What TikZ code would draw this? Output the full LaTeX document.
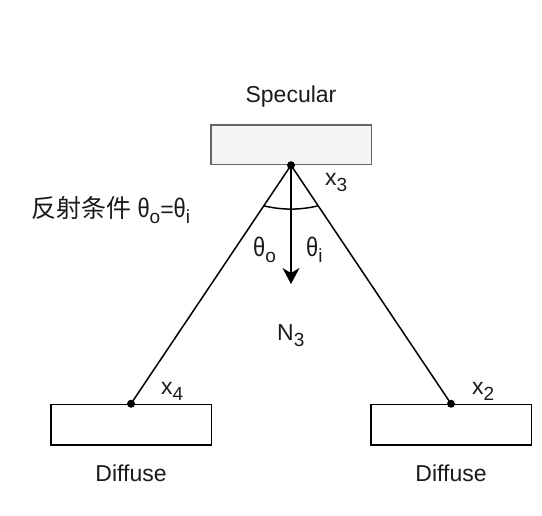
\documentclass[tikz,border=0pt]{standalone}
\usepackage{fontspec}
\setmainfont{Liberation Sans}
\newfontfamily\cjk{Noto Sans CJK SC}
\usetikzlibrary{arrows.meta, calc}
\definecolor{specgray}{HTML}{666666}
\definecolor{specfill}{HTML}{F5F5F5}
\definecolor{txtgray}{HTML}{1A1A1A}
\newcommand{\lowidx}[1]{\raisebox{-5.5pt}{\fontsize{19}{20}\selectfont #1}}
\newcommand{\thsym}{\scalebox{0.95}[1.17]{θ}}

\begin{document}
\begin{tikzpicture}[
  x=1pt, y=-1pt,
  font=\fontsize{23}{27}\selectfont,
  specbox/.style={
    rectangle, draw=specgray, fill=specfill, line width=1.5pt,
    minimum width=160.5pt, minimum height=39.5pt, inner sep=0pt
  },
  diffbox/.style={
    rectangle, draw=black, fill=white, line width=1.5pt,
    minimum width=160.5pt, minimum height=40.5pt, inner sep=0pt
  },
  lbl/.style={inner sep=0pt, text=txtgray},
  ray/.style={draw=black, line width=1.5pt},
  arr/.style={-{Stealth[length=16pt, width=17pt, inset=5pt]}, draw=black, line width=1.5pt},
  dot/.style={fill=black},
]
\useasboundingbox (0,0) rectangle (542,516);

% Boxes
\node[specbox] (spec) at (291,144.75) {};
\node[diffbox] (difl) at (131,424.75) {};
\node[diffbox] (difr) at (451,424.75) {};

% Box captions
\node[lbl, anchor=base] (speclbl) at (291,103) {Specular};
\node[lbl, anchor=base] (difllbl) at (131,481.5) {Diffuse};
\node[lbl, anchor=base] (difrlbl) at (451,481.5) {Diffuse};

% Hit points
\coordinate (x3) at (spec.south);
\coordinate (x4) at (difl.north);
\coordinate (x2) at (difr.north);
\coordinate (n3) at (291,284);

% Rays and normal
\draw[ray] (x3) -- (x4);
\draw[ray] (x3) -- (x2);
\draw[arr] (x3) -- (n3);

% Angle arc
\coordinate (arcl) at ($(x3)!0.17!(x4)$);
\coordinate (arcr) at ($(x3)!0.17!(x2)$);
\draw[ray] (arcl) .. controls ($(arcl)+(18,4.4)$) and ($(arcr)+(-18,4.4)$) .. (arcr);

\fill[dot] (x3) circle[radius=4pt];
\fill[dot] (x4) circle[radius=4pt];
\fill[dot] (x2) circle[radius=4pt];

% Point and angle labels
\node[lbl, anchor=base west] (x3lbl) at (325,186) {x\lowidx{3}};
\node[lbl, anchor=base west] (x4lbl) at (161,395) {x\lowidx{4}};
\node[lbl, anchor=base west] (x2lbl) at (472,395) {x\lowidx{2}};
\node[lbl, anchor=base west] (thetao) at (253,257) {\thsym\lowidx{o}};
\node[lbl, anchor=base west] (thetai) at (306,257) {\thsym\lowidx{i}};
\node[lbl, anchor=base west] (n3lbl) at (277,341) {N\lowidx{3}};
\node[lbl, anchor=base west] (cond) at (31,218) {{\cjk\fontsize{25}{27}\selectfont 反射条件} \thsym\lowidx{o}=\thsym\lowidx{i}};
\end{tikzpicture}
\end{document}
